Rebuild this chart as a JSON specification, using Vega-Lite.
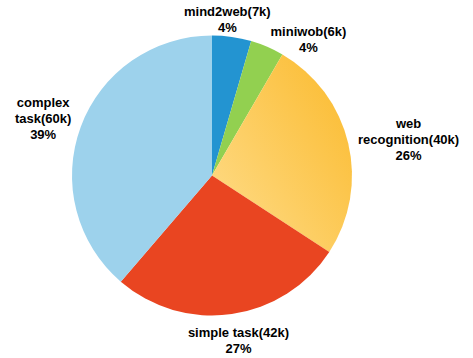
{
  "$schema": "https://vega.github.io/schema/vega-lite/v6.json",
  "autosize": {"type": "none"},
  "padding": {"left": 0, "top": 0, "right": 49, "bottom": 7},
  "width": 424,
  "height": 351,
  "background": "white",
  "view": {"stroke": null},
  "data": {
    "values": [
      {"cat": "mind2web", "k": 7, "rank": 1, "label": "mind2web(7k)\n4%"},
      {"cat": "miniwob", "k": 6, "rank": 2, "label": "miniwob(6k)\n4%"},
      {"cat": "web recognition", "k": 40, "rank": 3, "label": "web\nrecognition(40k)\n26%"},
      {"cat": "simple task", "k": 42, "rank": 4, "label": "simple task(42k)\n27%"},
      {"cat": "complex task", "k": 60, "rank": 5, "label": "complex\ntask(60k)\n39%"}
    ]
  },
  "layer": [
    {
      "mark": {"type": "arc", "outerRadius": 140, "stroke": null},
      "encoding": {
        "theta": {"field": "k", "type": "quantitative", "stack": true},
        "order": {"field": "rank", "type": "quantitative"},
        "color": {
          "condition": {
            "test": "datum.cat === 'web recognition'",
            "value": {
              "gradient": "linear",
              "x1": 0.9, "y1": 0.1, "x2": 0.1, "y2": 0.8,
              "stops": [
                {"offset": 0, "color": "#fbbd35"},
                {"offset": 1, "color": "#fed87e"}
              ]
            }
          },
          "field": "cat",
          "type": "nominal",
          "legend": null,
          "scale": {
            "domain": ["mind2web", "miniwob", "web recognition", "simple task", "complex task"],
            "range": ["#2394d1", "#92d050", "#fcc84f", "#e94521", "#9dd2ec"]
          }
        }
      }
    },
    {
      "mark": {"type": "text", "radius": 158, "dx": -7, "dy": -7, "font": "Liberation Sans", "fontSize": 13, "fontWeight": "bold", "lineBreak": "\n", "lineHeight": 16, "align": "center", "baseline": "middle", "color": "#000000"},
      "encoding": {
        "theta": {"field": "k", "type": "quantitative", "stack": true},
        "order": {"field": "rank", "type": "quantitative"},
        "text": {"condition": {"test": "datum.cat === 'mind2web'", "field": "label", "type": "nominal"}, "value": ""}
      }
    },
    {
      "mark": {"type": "text", "radius": 166, "dx": 31, "dy": 9, "font": "Liberation Sans", "fontSize": 13, "fontWeight": "bold", "lineBreak": "\n", "lineHeight": 16, "align": "center", "baseline": "middle", "color": "#000000"},
      "encoding": {
        "theta": {"field": "k", "type": "quantitative", "stack": true},
        "order": {"field": "rank", "type": "quantitative"},
        "text": {"condition": {"test": "datum.cat === 'miniwob'", "field": "label", "type": "nominal"}, "value": ""}
      }
    },
    {
      "mark": {"type": "text", "radius": 200, "dx": 2, "dy": -5, "font": "Liberation Sans", "fontSize": 13, "fontWeight": "bold", "lineBreak": "\n", "lineHeight": 16, "align": "center", "baseline": "middle", "color": "#000000"},
      "encoding": {
        "theta": {"field": "k", "type": "quantitative", "stack": true},
        "order": {"field": "rank", "type": "quantitative"},
        "text": {"condition": {"test": "datum.cat === 'web recognition'", "field": "label", "type": "nominal"}, "value": ""}
      }
    },
    {
      "mark": {"type": "text", "radius": 166, "dx": 3, "dy": -7, "font": "Liberation Sans", "fontSize": 13, "fontWeight": "bold", "lineBreak": "\n", "lineHeight": 16, "align": "center", "baseline": "middle", "color": "#000000"},
      "encoding": {
        "theta": {"field": "k", "type": "quantitative", "stack": true},
        "order": {"field": "rank", "type": "quantitative"},
        "text": {"condition": {"test": "datum.cat === 'simple task'", "field": "label", "type": "nominal"}, "value": ""}
      }
    },
    {
      "mark": {"type": "text", "radius": 179, "dx": -1, "dy": -10, "font": "Liberation Sans", "fontSize": 13, "fontWeight": "bold", "lineBreak": "\n", "lineHeight": 16, "align": "center", "baseline": "middle", "color": "#000000"},
      "encoding": {
        "theta": {"field": "k", "type": "quantitative", "stack": true},
        "order": {"field": "rank", "type": "quantitative"},
        "text": {"condition": {"test": "datum.cat === 'complex task'", "field": "label", "type": "nominal"}, "value": ""}
      }
    }
  ]
}
